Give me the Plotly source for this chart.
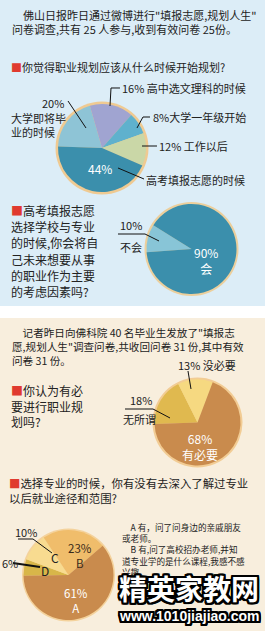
import plotly.graph_objects as go

W, H = 265, 631
FONT = "Noto Sans CJK SC"

# ---------------- data ----------------
q1_labels = ["大学即将毕业的时候", "高中选文理科的时候", "大学一年级开始", "工作以后", "高考填报志愿的时候"]
q1_values = [20, 16, 8, 12, 44]
q1_colors = ["#8ec4d6", "#a0a4d1", "#5fb1cd", "#cad7a7", "#3b8fac"]

q2_labels = ["不会", "会"]
q2_values = [10, 90]
q2_colors = ["#88c5d7", "#3b8fac"]

q3_labels = ["无所谓", "没必要", "有必要"]
q3_values = [18, 13, 68]
q3_colors = ["#e0b94f", "#f6d981", "#c98b4d"]

q4_labels = ["D", "C", "B", "A"]
q4_values = [6, 10, 23, 61]
q4_colors = ["#d8b649", "#f8db90", "#f0bd6b", "#c98b4d"]

survey1_n = 25
survey2_sent = 40
survey2_back = 31
survey2_valid = 31


def px(x):
    return x / W


def py(y):
    return 1 - y / H


fig = go.Figure()
shapes = []
anns = []


def rect(x0, y0, x1, y1, color):
    shapes.append(dict(type="rect", xref="paper", yref="paper", x0=px(x0), x1=px(x1),
                       y0=py(y1), y1=py(y0), fillcolor=color, line=dict(width=0), layer="below"))


def circle(cx, cy, r, color):
    shapes.append(dict(type="circle", xref="paper", yref="paper", x0=px(cx - r), x1=px(cx + r),
                       y0=py(cy + r), y1=py(cy - r), fillcolor=color, line=dict(width=0), layer="below"))


def poly(pts, width=1, color="#111"):
    d = "M " + " L ".join(f"{px(x):.5f},{py(y):.5f}" for x, y in pts)
    shapes.append(dict(type="path", xref="paper", yref="paper", path=d,
                       line=dict(color=color, width=width), layer="above"))


def ann(text, x, y, size=11, color="#222", anchor="left", bold=False, yanchor="middle", **kw):
    font = dict(family=FONT, size=size, color=color)
    font.update(kw.pop("font_extra", {}))
    if bold:
        text = f"<b>{text}</b>"
    if "align" not in kw:
        kw["align"] = "left" if anchor == "left" else "center"
    anns.append(dict(text=text, x=px(x), y=py(y), xref="paper", yref="paper",
                     xanchor=anchor, yanchor=yanchor, showarrow=False, font=font, **kw))


def pie(labels, values, colors, cx, cy, r, rot, rim, rimw):
    circle(cx, cy, r + rimw, rim)
    fig.add_trace(go.Pie(labels=labels, values=values, sort=False, direction="clockwise",
                         rotation=rot, textinfo="none", hoverinfo="label+percent",
                         marker=dict(colors=colors, line=dict(width=0)), showlegend=False,
                         domain=dict(x=[px(cx - r), px(cx + r)], y=[py(cy + r), py(cy - r)])))


RED = "<span style='color:#e03a2f'>■</span>"
IND = "　"

# ---------------- backgrounds ----------------
rect(0, 0, W, 306, "#dcedf7")
rect(0, 318, W, H, "#f8eedd")

# ---------------- section 1 ----------------
ann(IND + f"佛山日报昨日通过微博进行\"填报志愿,规划人生\"<br>"
    f"问卷调查,共有 {survey1_n} 人参与,收到有效问卷 {survey1_n}份。", 10, 21.5)
ann(RED + "你觉得职业规划应该从什么时候开始规划?", 9, 67)

pie(q1_labels, q1_values, q1_colors, 102, 148, 44, 272, "#efca92", 2.5)
ann(f"{q1_values[0]}%", 40, 103)
ann("大学即将毕<br>业的时候", 9, 125)
poly([(68, 101), (86, 128)])
ann(f"{q1_values[1]}% " + q1_labels[1], 120, 88)
poly([(120, 88), (111, 88), (110, 106)])
ann(f"{q1_values[2]}%" + q1_labels[2], 151, 117)
poly([(150, 117), (143, 117), (137, 128)])
ann(f"{q1_values[3]}% " + q1_labels[3], 157, 146)
poly([(142, 146), (157, 146)])
ann(f"{q1_values[4]}%", 100, 168, size=12, color="white", anchor="center")
ann(q1_labels[4], 144, 180)
poly([(118, 168), (144, 179)])

q2_lines = ["高考填报志愿", "选择学校与专业", "的时候,你会将自", "己未来想要从事", "的职业作为主要", "的考虑因素吗?"]
for i, t in enumerate(q2_lines):
    ann((RED if i == 0 else "") + t, 9, 210 + i * 16.4, size=12)

pie(q2_labels, q2_values, q2_colors, 191.5, 249, 45, 266, "#eccf9c", 2)
ann(f"{q2_values[0]}%", 131, 225, anchor="center")
ann(q2_labels[0], 131, 247, anchor="center")
poly([(118, 234), (145, 234), (159, 241)])
ann(f"{q2_values[1]}%<br>{q2_labels[1]}", 206, 260, size=12, color="white", anchor="center")

# ---------------- section 2 ----------------
ann(IND + f"记者昨日向佛科院 {survey2_sent} 名毕业生发放了\"填报志<br>"
    f"愿,规划人生\"调查问卷,共收回问卷 {survey2_back} 份,其中有效<br>"
    f"问卷 {survey2_valid} 份。", 10, 346, size=10.6)

q3_lines = ["你认为有必", "要进行职业规", "划吗?"]
ann(RED + "<br>".join(q3_lines), 9, 405.5, size=12)

pie(q3_labels, q3_values, q3_colors, 197.5, 422.5, 43, 268, "#f2cc94", 2)
ann(f"{q3_values[1]}% " + q3_labels[1], 176, 365)
poly([(188, 371), (191, 389)])
ann(f"{q3_values[0]}%", 141, 400, anchor="center")
ann(q3_labels[0], 139, 419, anchor="center")
poly([(125, 409), (153, 409), (170, 418)])
ann(f"{q3_values[2]}%<br>{q3_labels[2]}", 200, 446, size=12, color="white", anchor="center")

ann(RED + "选择专业的时候，你有没有去深入了解过专业<br>以后就业途径和范围?", 7, 490, size=11.4)

pie(q4_labels, q4_values, q4_colors, 68.5, 575, 45, 269, "#f4d29c", 1.5)
ann(f"{q4_values[1]}%", 26, 532, anchor="center")
poly([(18, 539), (33, 539), (52, 553)])
ann(q4_labels[1], 55, 557, anchor="center", size=12)
ann(f"{q4_values[0]}%", 0, 563, anchor="left")
poly([(13, 563), (40, 567)], width=2)
ann(q4_labels[0], 45, 570, anchor="center", size=12)
ann(f"{q4_values[2]}%<br>{q4_labels[2]}", 80, 555, anchor="center", size=11.5, color="#3a2a1a")
ann(f"{q4_values[3]}%<br>{q4_labels[3]}", 76, 600, anchor="center", size=11.5, color="white")

desc = ["　A 有，问了问身边的亲戚朋友", "或老师。", "　B 有,问了高校招办老师,并知", "道专业学的是什么课程,我感不感", "兴趣。"]
ann("<br>".join(desc), 120, 519, size=8.6, yanchor="top", align="left")

# ---------------- watermark ----------------
outline = ", ".join(f"{dx}px {dy}px 0 #000" for dx in (-2, -1, 0, 1, 2) for dy in (-2, -1, 0, 1, 2))
ann("精英家教网", 189, 588, size=28, color="white", anchor="center", bold=True,
    font_extra=dict(shadow=outline))
ann("www.1010jiajiao.com", 189, 616, size=14, color="white", anchor="center", bold=True,
    font_extra=dict(family="Liberation Sans", shadow=outline))

fig.update_layout(width=W, height=H, margin=dict(l=0, r=0, t=0, b=0),
                  paper_bgcolor="white", plot_bgcolor="white",
                  shapes=shapes, annotations=anns)
fig.write_html("out.html")
